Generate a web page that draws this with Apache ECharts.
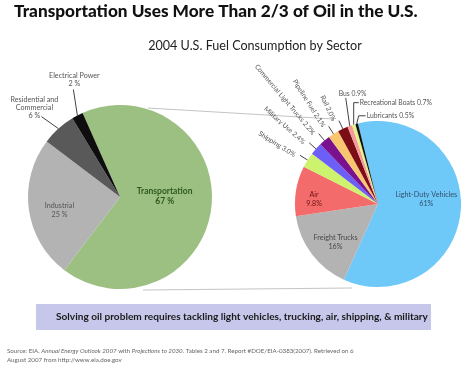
<!DOCTYPE html>
<html><head><meta charset="utf-8">
<script src="https://cdn.jsdelivr.net/npm/echarts@6/dist/echarts.min.js"></script>
<style>html,body{margin:0;padding:0;background:#fff}#c{width:474px;height:367px}</style>
</head><body><div id="c"></div>
<script>
// ---- data ----
const sectorNames = ['Transportation', 'Industrial', 'Residential and Commercial', 'Electrical Power'];
const sectorLabels = ['Transportation', 'Industrial', 'Residential and\nCommercial', 'Electrical Power'];
const sectorValues = [67, 25, 6, 2];
const sectorPct = ['67 %', '25 %', '6 %', '2 %'];

const modeNames = ['Light-Duty Vehicles', 'Freight Trucks', 'Air', 'Shipping', 'Military Use',
  'Commercial Light Trucks', 'Pipeline Fuel', 'Rail', 'Bus', 'Recreational Boats', 'Lubricants'];
const modeValues = [61, 16, 9.8, 3.0, 2.4, 2.2, 2.1, 2.0, 0.9, 0.7, 0.5];
const modePct = ['61%', '16%', '9.8%', '3.0%', '2.4%', '2.2%', '2.1%', '2.0%', '0.9%', '0.7%', '0.5%'];

// ---- styles ----
const FONT = 'Lato';
const sectorColors = ['#9cbf82', '#b3b3b3', '#595959', '#0e0e0e'];
const modeColors = ['#6ec8f8', '#b3b3b3', '#f46b6b', '#cdf36e', '#6c5ef7', '#7a118f',
  '#f8c66e', '#7b0d17', '#f79999', '#e2f18a', '#111111'];

const chart = echarts.init(document.getElementById('c'), null, {renderer: 'canvas'});

const leftData = sectorNames.map((n, i) => {
  const d = {name: n, value: sectorValues[i], itemStyle: {color: sectorColors[i]}};
  if (i === 0) d.label = {position: 'inside', color: '#2d5a1e', fontWeight: 'bold', fontSize: 8.5, lineHeight: 10};
  else if (i === 1) d.label = {position: 'inside', color: '#555', fontSize: 7.2, lineHeight: 9};
  else d.label = {position: 'outside', color: '#555', fontSize: 7.2, lineHeight: 8};
  return d;
});

const rightData = modeNames.map((n, i) => {
  const d = {name: n, value: modeValues[i], itemStyle: {color: modeColors[i]}};
  if (i < 3) {
    d.label = {position: 'inside', fontSize: 7.2, lineHeight: 9,
      color: ['#33506e', '#474747', '#6e1414'][i]};
  } else if (i < 8) {
    d.label = {position: 'outside', rotate: 'radial', fontSize: 6.8, color: '#555'};
  } else {
    d.label = {position: 'outside', fontSize: 6.8, color: '#555'};
  }
  return d;
});

const insideShiftL = {0: [-4, -6], 1: [-12, 7]};
const insideShiftR = {0: [4, -9], 1: [-7, 11], 2: [-20, 2]};

const option = {
  backgroundColor: '#ffffff',
  animation: false,
  textStyle: {fontFamily: FONT},
  graphic: [
    {type: 'line', z: 1, shape: {x1: 148, y1: 108, x2: 334, y2: 119},
      style: {stroke: '#c4c4c4', lineWidth: 1}},
    {type: 'line', z: 1, shape: {x1: 143, y1: 290, x2: 352, y2: 288},
      style: {stroke: '#c4c4c4', lineWidth: 1}},
    {type: 'text', left: 14, top: 3, z: 10,
      style: {text: 'Transportation Uses More Than 2/3 of Oil in the U.S.', fill: '#111',
        font: '900 17.2px Lato'}},
    {type: 'text', x: 255, y: 46, z: 10,
      style: {text: '2004 U.S. Fuel Consumption by Sector', fill: '#222',
        font: '12.6px Lato', textAlign: 'center', textVerticalAlign: 'middle'}},
    {type: 'rect', z: 5, shape: {x: 36, y: 304, width: 395, height: 26},
      style: {fill: '#c7c7ec'}},
    {type: 'text', x: 56, y: 317, z: 10,
      style: {text: 'Solving oil problem requires tackling light vehicles, trucking, air, shipping, & military',
        fill: '#1a1a1a', font: 'bold 10.1px Lato', textVerticalAlign: 'middle'}},
    {type: 'text', x: 7, y: 347, z: 10,
      style: {
        text: 'Source: EIA. {i|Annual Energy Outlook 2007} with {i|Projections to 2030}. Tables 2 and 7. Report #DOE/EIA-0383(2007). Retrieved on 6\nAugust 2007 from {u|http://www.eia.doe.gov}',
        fill: '#666', font: '6.2px Lato', lineHeight: 8.5,
        rich: {i: {fontStyle: 'italic', fontSize: 6.2, fill: '#666', fontFamily: FONT},
               u: {fontSize: 6.2, fill: '#666', fontFamily: FONT}}
      }}
  ],
  series: [
    {
      type: 'pie', z: 3,
      center: [120, 197], radius: 92,
      startAngle: 114, clockwise: true,
      avoidLabelOverlap: false,
      label: {
        fontFamily: FONT,
        formatter: p => sectorLabels[p.dataIndex] + '\n' + sectorPct[p.dataIndex]
      },
      labelLine: {show: true, length: 20, length2: 0, lineStyle: {color: '#444', width: 1}},
      labelLayout: function (p) {
        const i = p.dataIndex;
        if (insideShiftL[i]) return {dx: insideShiftL[i][0], dy: insideShiftL[i][1]};
        const s = p.labelLinePoints && p.labelLinePoints[0];
        if (!s) return {};
        if (i === 2) {
          return {x: s[0] - 24, y: s[1] - 9, align: 'center', verticalAlign: 'bottom',
            labelLinePoints: [[s[0], s[1]], [s[0] - 17, s[1] - 12]]};
        }
        if (i === 3) {
          return {x: s[0] - 3, y: s[1] - 28, align: 'center', verticalAlign: 'bottom',
            labelLinePoints: [[s[0], s[1]], [s[0] - 4, s[1] - 26]]};
        }
        return {};
      },
      data: leftData
    },
    {
      type: 'pie', z: 3,
      center: [378, 204], radius: 83,
      startAngle: 104, clockwise: true,
      avoidLabelOverlap: false,
      label: {
        fontFamily: FONT,
        formatter: p => p.dataIndex < 3
          ? modeNames[p.dataIndex] + '\n' + modePct[p.dataIndex]
          : modeNames[p.dataIndex] + ' ' + modePct[p.dataIndex]
      },
      labelLine: {show: true, length: 9, length2: 0, lineStyle: {color: '#444', width: 1}},
      labelLayout: function (p) {
        const i = p.dataIndex;
        if (insideShiftR[i]) return {dx: insideShiftR[i][0], dy: insideShiftR[i][1]};
        const s = p.labelLinePoints && p.labelLinePoints[0];
        if (!s) return {};
        if (i === 8) {
          return {x: s[0] - 11, y: s[1] - 29, align: 'left', verticalAlign: 'bottom',
            labelLinePoints: [[s[0], s[1]], [s[0] - 4, s[1] - 28]]};
        }
        if (i === 9) {
          return {x: s[0] + 6, y: s[1] - 22, align: 'left', verticalAlign: 'middle',
            labelLinePoints: [[s[0], s[1]], [s[0], s[1] - 22], [s[0] + 5, s[1] - 22]]};
        }
        if (i === 10) {
          return {x: s[0] + 10, y: s[1] - 8, align: 'left', verticalAlign: 'middle',
            labelLinePoints: [[s[0], s[1]], [s[0] + 2, s[1] - 8], [s[0] + 9, s[1] - 8]]};
        }
        return {};
      },
      data: rightData
    }
  ]
};
chart.setOption(option);
</script>
</body></html>
